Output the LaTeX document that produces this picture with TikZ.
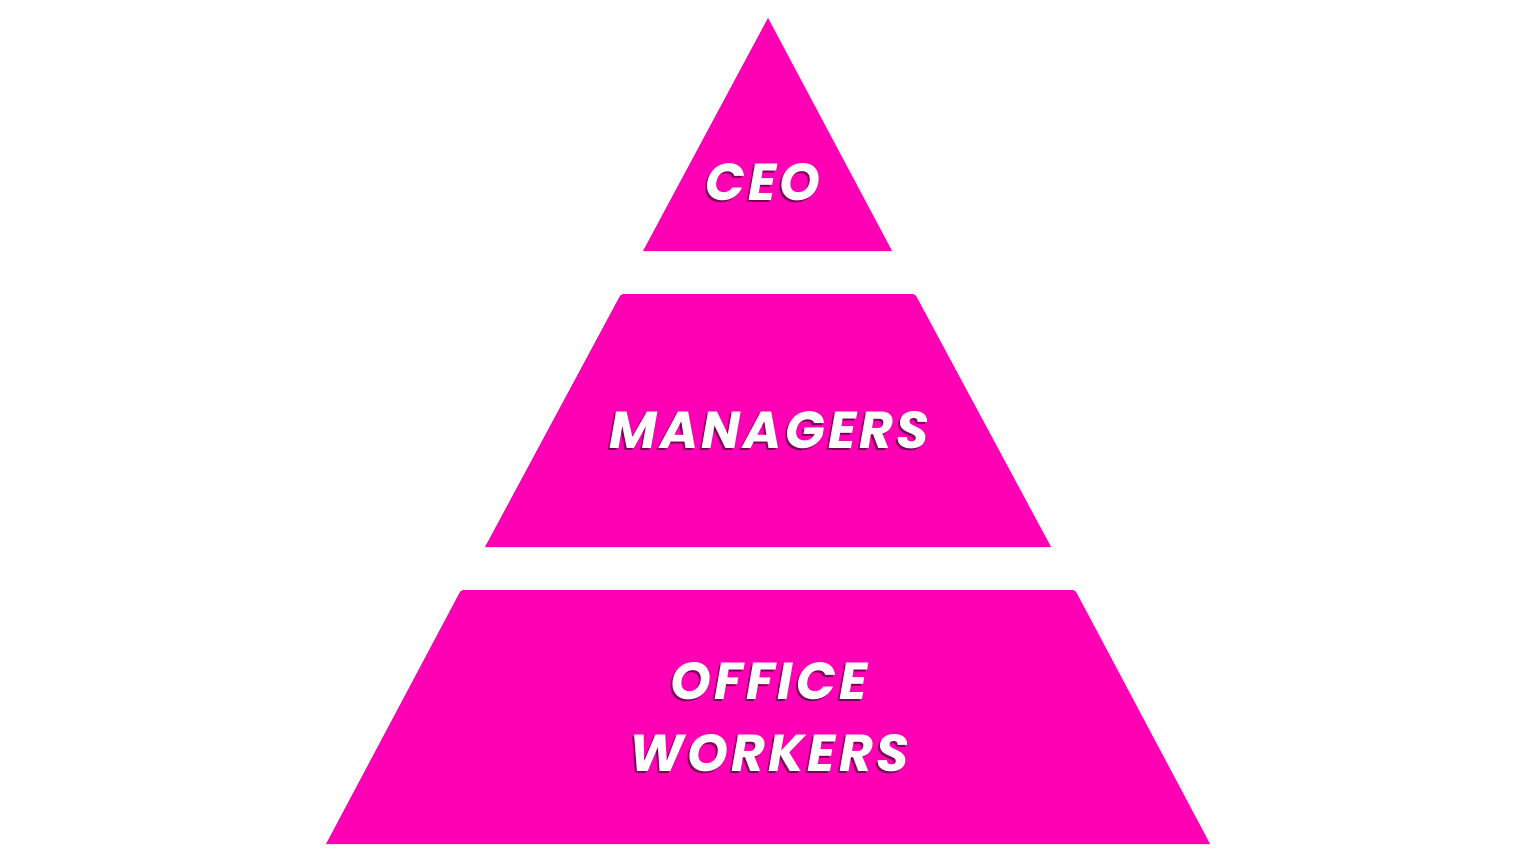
\documentclass[tikz,border=0pt]{standalone}
\usepackage{fontspec}
\setmainfont{Poppins}[BoldItalicFont={Poppins Bold Italic},LetterSpace=6]
\definecolor{pyr}{HTML}{FF00B4}
\definecolor{shade}{HTML}{7A0058}
\begin{document}
\begin{tikzpicture}[x=1pt,y=-1pt,
  tier/.style={fill=pyr,draw=none},
  lbl/.style={text=white,font=\fontsize{52}{70}\selectfont\bfseries\itshape,align=center,inner sep=0pt},
  lblshadow/.style={lbl,text=shade}]
\useasboundingbox (0,0) rectangle (1536,864);
\path[tier] (768,18) -- (892,251) -- (643,251) -- cycle;
\path[tier] (485,547) [rounded corners=2pt] -- (621,294) -- (915,294) [sharp corners] -- (1051,547) -- cycle;
\path[tier] (326,844) [rounded corners=2pt] -- (461,590) -- (1075,590) [sharp corners] -- (1210,844) -- cycle;
\node[lblshadow] (ceos) at (761,184) {CEO};
\node[lbl] (ceo) at (763,182) {CEO};
\node[lblshadow] (mans) at (767,432) {MANAGERS};
\node[lbl] (man) at (769,430) {MANAGERS};
\node[lblshadow] (offs) at (767,719) {OFFICE\\[2pt]WORKERS};
\node[lbl] (off) at (769,717) {OFFICE\\[2pt]WORKERS};
\end{tikzpicture}
\end{document}
